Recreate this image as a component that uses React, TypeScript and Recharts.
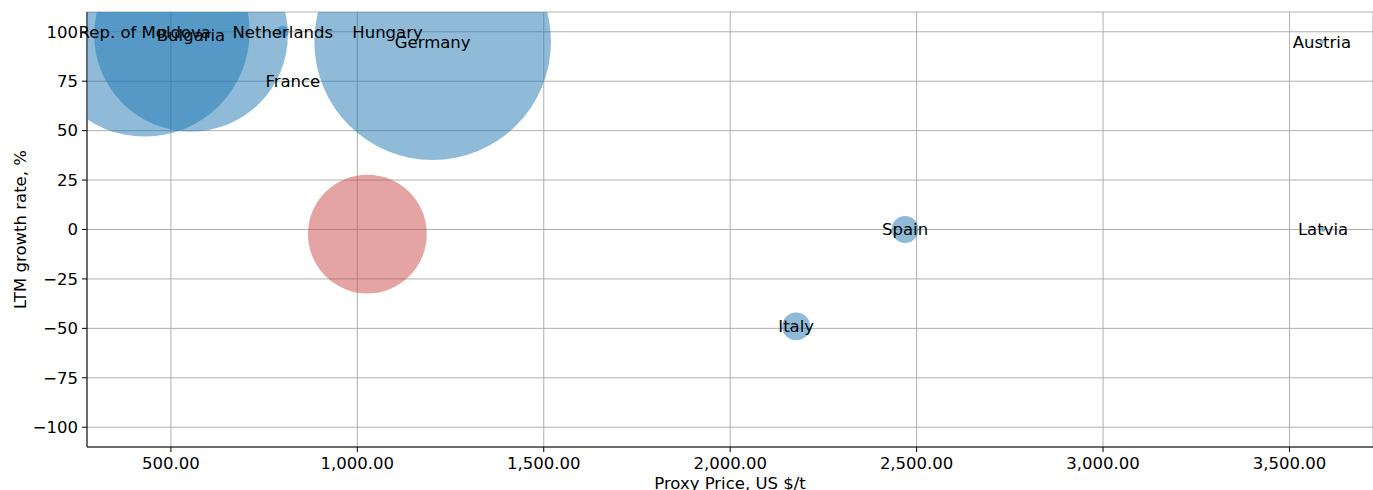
import React from 'react';
import {
    ScatterChart, Scatter, XAxis, YAxis, ZAxis, CartesianGrid, LabelList
} from 'recharts';

// partner countries (blue bubbles)
const countries = ['Rep. of Moldova', 'Bulgaria', 'Netherlands', 'France', 'Hungary', 'Germany', 'Spain', 'Italy', 'Austria', 'Latvia'];
const proxyPrices = [430, 554, 800, 827, 1081, 1202, 2469, 2177, 3587, 3590];
const ltmGrowth = [100, 98.5, 100, 75, 100, 95, 0, -49, 95, 0];
const volumes = [11025, 9409, 36, 1, 1, 14042, 182, 196, 4, 6];

// highlighted (red) bubble, unlabeled
const redPrices = [1027];
const redGrowth = [-2.3];
const redVolumes = [3540];

const xTicks = [500, 1000, 1500, 2000, 2500, 3000, 3500];
const yTicks = [-100, -75, -50, -25, 0, 25, 50, 75, 100];

const blueData = countries.map((name, i) => ({
    name,
    price: proxyPrices[i],
    growth: ltmGrowth[i],
    volume: volumes[i],
}));

const redData = redPrices.map((p, i) => ({
    price: p,
    growth: redGrowth[i],
    volume: redVolumes[i],
}));

const X_DOMAIN: [number, number] = [275, 3724];
const Y_DOMAIN: [number, number] = [-110, 110];
const Z_MAX = 14000;

const fmtX = (v: number) =>
    v.toLocaleString('en-US', { minimumFractionDigits: 2, maximumFractionDigits: 2 });
const fmtY = (v: number) => String(v).replace('-', '\u2212');

const FS = 16.5;
const tickStyle = { fill: '#000', fontSize: FS };

export default function App() {
    return (
        <div style={{ position: 'absolute', left: 0, top: 0, background: '#fff', fontFamily: 'DejaVu Sans' }}>
            <ScatterChart width={1373} height={490} margin={{ top: 12, right: 0, bottom: 0, left: 0 }}>
                <XAxis
                    type="number"
                    dataKey="price"
                    domain={X_DOMAIN}
                    ticks={xTicks}
                    allowDataOverflow
                    height={43}
                    tickFormatter={fmtX}
                    tick={tickStyle}
                    tickSize={5}
                    tickMargin={5}
                    tickLine={{ stroke: '#000' }}
                    axisLine={{ stroke: '#000' }}
                    label={{ value: 'Proxy Price, US $/t', position: 'insideBottom', offset: 1, fill: '#000', fontSize: FS }}
                />
                <XAxis
                    xAxisId="top"
                    orientation="top"
                    type="number"
                    domain={X_DOMAIN}
                    height={0}
                    tick={false}
                    tickLine={false}
                    axisLine={{ stroke: '#000' }}
                />
                <YAxis
                    type="number"
                    dataKey="growth"
                    domain={Y_DOMAIN}
                    ticks={yTicks}
                    allowDataOverflow
                    width={87}
                    tickFormatter={fmtY}
                    tick={tickStyle}
                    tickSize={5}
                    tickMargin={4}
                    tickLine={{ stroke: '#000' }}
                    axisLine={{ stroke: '#000' }}
                    label={{
                        value: 'LTM growth rate, %',
                        angle: -90,
                        position: 'insideLeft',
                        offset: 20,
                        fill: '#000',
                        fontSize: FS,
                        style: { textAnchor: 'middle' },
                    }}
                />
                <ZAxis type="number" dataKey="volume" domain={[0, Z_MAX]} range={[0, Z_MAX * Math.PI]} />
                <Scatter data={redData} fill="#c94949" fillOpacity={0.5} isAnimationActive={false} />
                <Scatter data={blueData} fill="#1f77b4" fillOpacity={0.5} isAnimationActive={false}>
                    <LabelList dataKey="name" position="center" fill="#000" fontSize={FS} />
                </Scatter>
                <CartesianGrid stroke="#b0b0b0" strokeWidth={1} />
            </ScatterChart>
        </div>
    );
}
